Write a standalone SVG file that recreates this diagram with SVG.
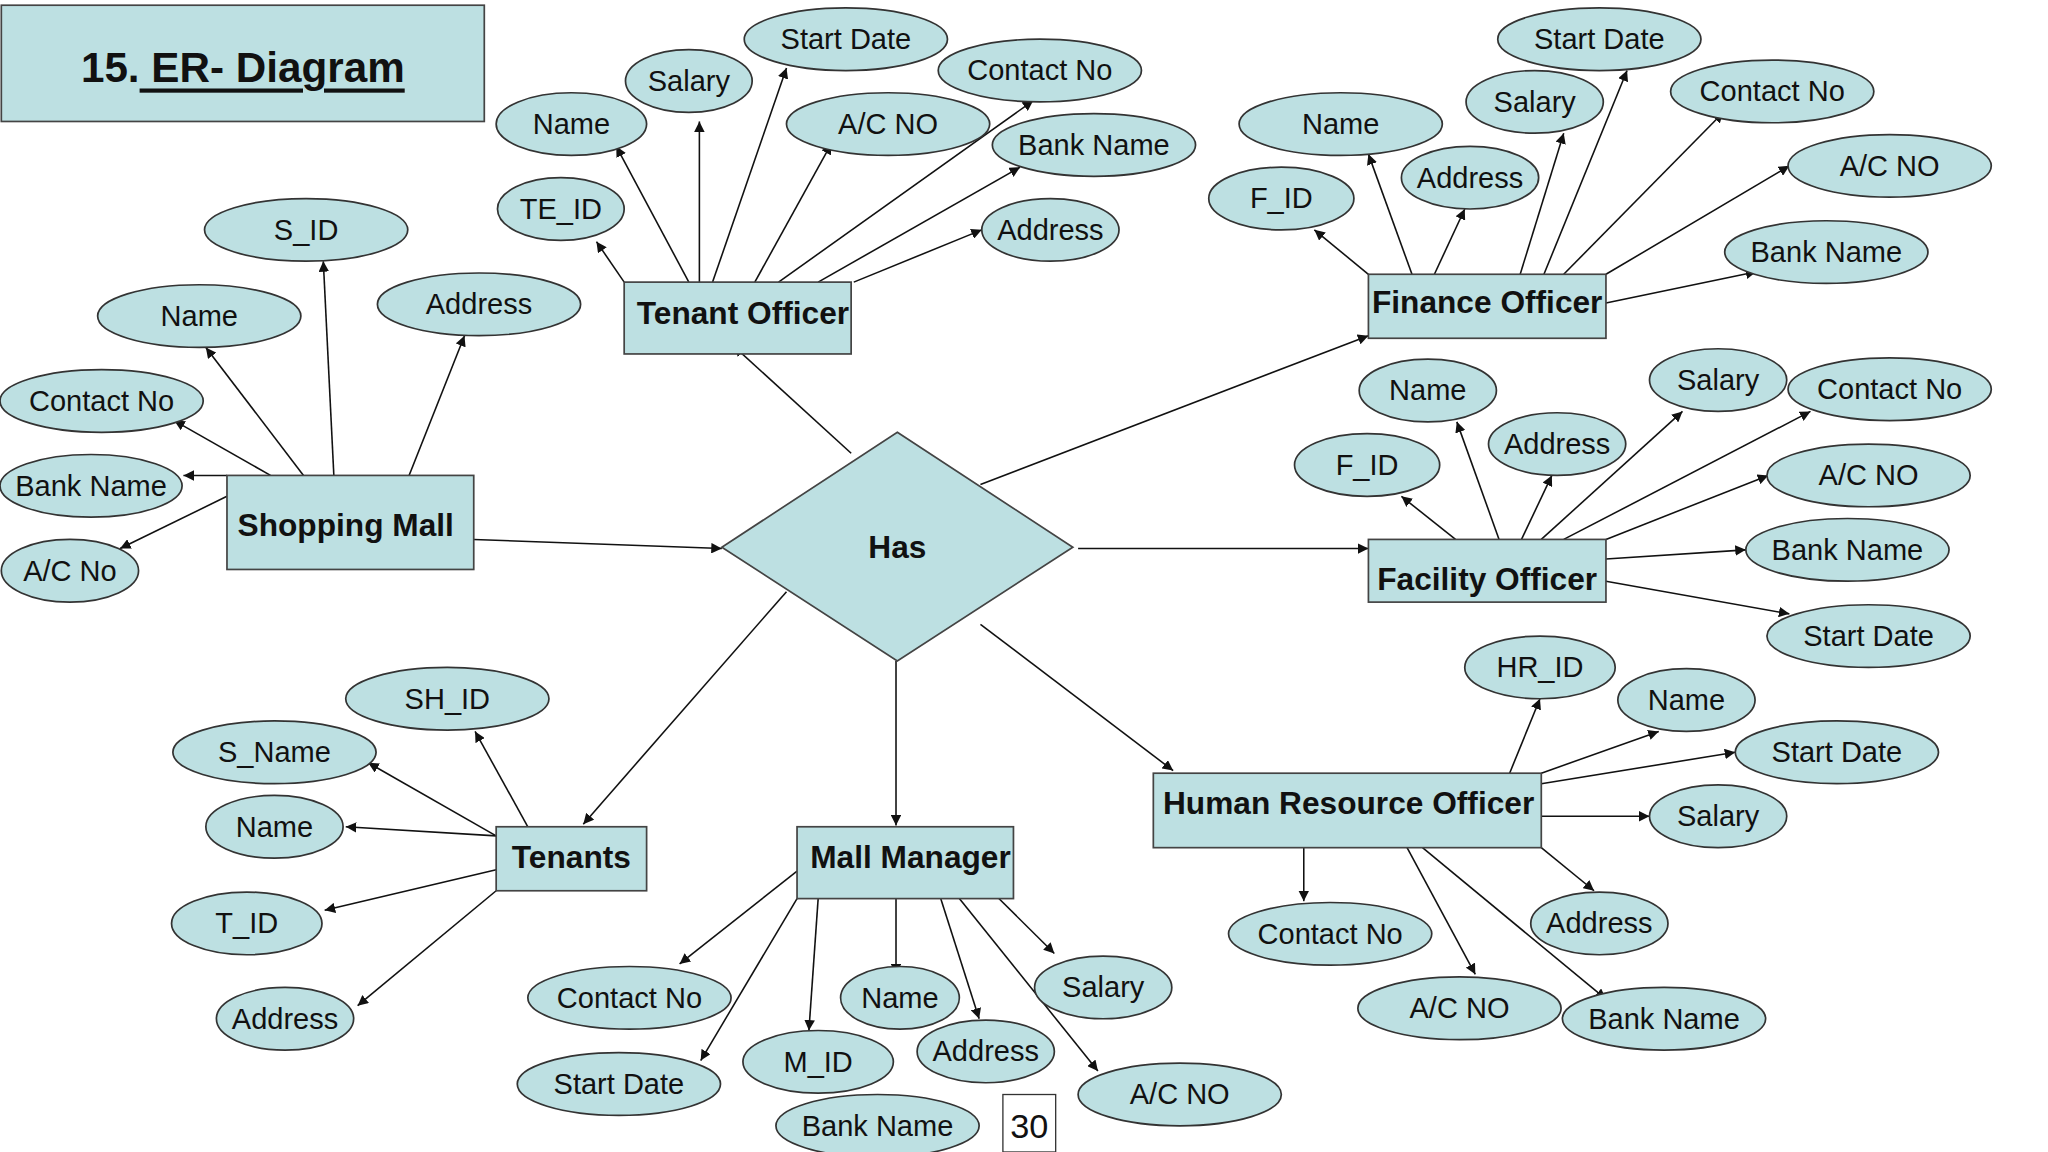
<svg xmlns="http://www.w3.org/2000/svg" width="2048" height="1152" viewBox="0 0 2048 1152">
<defs>
<style>
.e{fill:#bde0e2;stroke:#333;stroke-width:1.3}
.r{fill:#bde0e2;stroke:#444;stroke-width:1.3}
.t{font-family:"Liberation Sans",Arial,sans-serif;font-size:22px;text-anchor:middle;dominant-baseline:central;fill:#111}
.b{font-family:"Liberation Sans",Arial,sans-serif;font-size:24px;font-weight:bold;text-anchor:middle;dominant-baseline:central;fill:#111}
.c line{stroke:#111;stroke-width:1.2;marker-end:url(#a)}
</style>
<marker id="a" viewBox="0 0 10 10" refX="10" refY="5" markerWidth="8" markerHeight="8" orient="auto" markerUnits="userSpaceOnUse"><path d="M0,0L10,5L0,10z" fill="#111"/></marker>
</defs>
<rect width="2048" height="1152" fill="#fff"/>
<g transform="scale(1.3196,1.3061)">
<g id="title"><rect class="r" x="1" y="4" width="366" height="89"/><text x="184" y="51" class="b" style="font-size:32px"><tspan>15.</tspan><tspan text-decoration="underline"> ER- Diagram</tspan></text></g>
<g class="c" id="connectors">
<line x1="522" y1="216" x2="467" y2="112"/><line x1="530" y1="216" x2="530" y2="93"/><line x1="540" y1="216" x2="596" y2="52"/><line x1="572" y1="216" x2="630" y2="110"/><line x1="590" y1="216" x2="783" y2="77"/><line x1="620" y1="216" x2="773" y2="128"/><line x1="647" y1="216" x2="744" y2="176"/><line x1="473" y1="216" x2="452" y2="185"/>
<line x1="1037" y1="210" x2="996" y2="176"/><line x1="1070" y1="210" x2="1037" y2="118"/><line x1="1087" y1="210" x2="1110" y2="160"/><line x1="1152" y1="210" x2="1185" y2="102"/><line x1="1170" y1="210" x2="1233" y2="54"/><line x1="1185" y1="210" x2="1306" y2="86"/><line x1="1217" y1="210" x2="1356" y2="127"/><line x1="1217" y1="232" x2="1331" y2="208"/>
<line x1="1103" y1="413" x2="1062" y2="380"/><line x1="1136" y1="413" x2="1104" y2="323"/><line x1="1153" y1="413" x2="1176" y2="364"/><line x1="1168" y1="413" x2="1275" y2="315"/><line x1="1185" y1="413" x2="1372" y2="315"/><line x1="1217" y1="413" x2="1340" y2="364"/><line x1="1217" y1="428" x2="1323" y2="421"/><line x1="1217" y1="445" x2="1356" y2="470"/>
<line x1="253" y1="364" x2="245" y2="200"/><line x1="230" y1="364" x2="156" y2="266"/><line x1="310" y1="364" x2="352" y2="257"/><line x1="205" y1="364" x2="132" y2="322"/><line x1="172" y1="364" x2="139" y2="364"/><line x1="172" y1="380" x2="91" y2="420"/>
<line x1="645" y1="347" x2="556" y2="265"/><line x1="743" y1="371" x2="1037" y2="257"/><line x1="359" y1="413" x2="547" y2="420"/><line x1="817" y1="420" x2="1037" y2="420"/><line x1="596" y1="453" x2="442" y2="631"/><line x1="679" y1="506" x2="679" y2="632"/><line x1="743" y1="478" x2="889" y2="590"/>
<line x1="400" y1="633" x2="360" y2="560"/><line x1="376" y1="640" x2="279" y2="584"/><line x1="376" y1="640" x2="262" y2="633"/><line x1="376" y1="666" x2="246" y2="697"/><line x1="376" y1="682" x2="271" y2="770"/>
<line x1="604" y1="667" x2="515" y2="738"/><line x1="604" y1="688" x2="531" y2="812"/><line x1="620" y1="688" x2="613" y2="789"/><line x1="679" y1="688" x2="679" y2="746"/><line x1="711" y1="682" x2="742" y2="780"/><line x1="727" y1="688" x2="832" y2="820"/><line x1="751" y1="682" x2="799" y2="730"/>
<line x1="1144" y1="592" x2="1167" y2="535"/><line x1="1168" y1="592" x2="1257" y2="560"/><line x1="1168" y1="600" x2="1315" y2="576"/><line x1="1168" y1="625" x2="1250" y2="625"/><line x1="988" y1="649" x2="988" y2="690"/><line x1="1168" y1="649" x2="1208" y2="682"/><line x1="1062" y1="641" x2="1118" y2="746"/><line x1="1078" y1="649" x2="1217" y2="765"/>
</g>
<g id="has"><polygon class="r" points="680,331 813,419 680,506 547,419"/><text class="b" x="680" y="419">Has</text></g>
<g id="tenant-officer"><rect class="r" x="473" y="216" width="172" height="55"/><text class="b" x="563" y="240">Tenant Officer</text></g>
<g id="finance-officer"><rect class="r" x="1037" y="210" width="180" height="49"/><text class="b" x="1127" y="231">Finance Officer</text></g>
<g id="facility-officer"><rect class="r" x="1037" y="413" width="180" height="48"/><text class="b" x="1127" y="443">Facility Officer</text></g>
<g id="shopping-mall"><rect class="r" x="172" y="364" width="187" height="72"/><text class="b" x="262" y="402">Shopping Mall</text></g>
<g id="tenants"><rect class="r" x="376" y="633" width="114" height="49"/><text class="b" x="433" y="656">Tenants</text></g>
<g id="mall-manager"><rect class="r" x="604" y="633" width="164" height="55"/><text class="b" x="690" y="656">Mall Manager</text></g>
<g id="hr-officer"><rect class="r" x="874" y="592" width="294" height="57"/><text class="b" x="1022" y="615">Human Resource Officer</text></g>
<g id="page"><rect x="760" y="838" width="40" height="44" fill="#fff" stroke="#333"/><text class="t" x="780" y="862" style="font-size:26px">30</text></g>
<g id="attrs">
<g id="to-startdate"><ellipse class="e" cx="641" cy="30" rx="77" ry="24"/><text class="t" x="641" y="30">Start Date</text></g>
<g id="to-salary"><ellipse class="e" cx="522" cy="62" rx="48" ry="24"/><text class="t" x="522" y="62">Salary</text></g>
<g id="to-contact"><ellipse class="e" cx="788" cy="54" rx="77" ry="24"/><text class="t" x="788" y="54">Contact No</text></g>
<g id="to-name"><ellipse class="e" cx="433" cy="95" rx="57" ry="24"/><text class="t" x="433" y="95">Name</text></g>
<g id="to-acno"><ellipse class="e" cx="673" cy="95" rx="77" ry="24"/><text class="t" x="673" y="95">A/C NO</text></g>
<g id="to-bank"><ellipse class="e" cx="829" cy="111" rx="77" ry="24"/><text class="t" x="829" y="111">Bank Name</text></g>
<g id="to-teid"><ellipse class="e" cx="425" cy="160" rx="48" ry="24"/><text class="t" x="425" y="160">TE_ID</text></g>
<g id="to-address"><ellipse class="e" cx="796" cy="176" rx="52" ry="24"/><text class="t" x="796" y="176">Address</text></g>
<g id="fo-startdate"><ellipse class="e" cx="1212" cy="30" rx="77" ry="24"/><text class="t" x="1212" y="30">Start Date</text></g>
<g id="fo-salary"><ellipse class="e" cx="1163" cy="78" rx="52" ry="24"/><text class="t" x="1163" y="78">Salary</text></g>
<g id="fo-contact"><ellipse class="e" cx="1343" cy="70" rx="77" ry="24"/><text class="t" x="1343" y="70">Contact No</text></g>
<g id="fo-name"><ellipse class="e" cx="1016" cy="95" rx="77" ry="24"/><text class="t" x="1016" y="95">Name</text></g>
<g id="fo-address"><ellipse class="e" cx="1114" cy="136" rx="52" ry="24"/><text class="t" x="1114" y="136">Address</text></g>
<g id="fo-fid"><ellipse class="e" cx="971" cy="152" rx="55" ry="24"/><text class="t" x="971" y="152">F_ID</text></g>
<g id="fo-acno"><ellipse class="e" cx="1432" cy="127" rx="77" ry="24"/><text class="t" x="1432" y="127">A/C NO</text></g>
<g id="fo-bank"><ellipse class="e" cx="1384" cy="193" rx="77" ry="24"/><text class="t" x="1384" y="193">Bank Name</text></g>
<g id="fa-name"><ellipse class="e" cx="1082" cy="299" rx="52" ry="24"/><text class="t" x="1082" y="299">Name</text></g>
<g id="fa-salary"><ellipse class="e" cx="1302" cy="291" rx="52" ry="24"/><text class="t" x="1302" y="291">Salary</text></g>
<g id="fa-contact"><ellipse class="e" cx="1432" cy="298" rx="77" ry="24"/><text class="t" x="1432" y="298">Contact No</text></g>
<g id="fa-address"><ellipse class="e" cx="1180" cy="340" rx="52" ry="24"/><text class="t" x="1180" y="340">Address</text></g>
<g id="fa-fid"><ellipse class="e" cx="1036" cy="356" rx="55" ry="24"/><text class="t" x="1036" y="356">F_ID</text></g>
<g id="fa-acno"><ellipse class="e" cx="1416" cy="364" rx="77" ry="24"/><text class="t" x="1416" y="364">A/C NO</text></g>
<g id="fa-bank"><ellipse class="e" cx="1400" cy="421" rx="77" ry="24"/><text class="t" x="1400" y="421">Bank Name</text></g>
<g id="fa-startdate"><ellipse class="e" cx="1416" cy="487" rx="77" ry="24"/><text class="t" x="1416" y="487">Start Date</text></g>
<g id="sm-sid"><ellipse class="e" cx="232" cy="176" rx="77" ry="24"/><text class="t" x="232" y="176">S_ID</text></g>
<g id="sm-name"><ellipse class="e" cx="151" cy="242" rx="77" ry="24"/><text class="t" x="151" y="242">Name</text></g>
<g id="sm-address"><ellipse class="e" cx="363" cy="233" rx="77" ry="24"/><text class="t" x="363" y="233">Address</text></g>
<g id="sm-contact"><ellipse class="e" cx="77" cy="307" rx="77" ry="24"/><text class="t" x="77" y="307">Contact No</text></g>
<g id="sm-bank"><ellipse class="e" cx="69" cy="372" rx="69" ry="24"/><text class="t" x="69" y="372">Bank Name</text></g>
<g id="sm-acno"><ellipse class="e" cx="53" cy="437" rx="52" ry="24"/><text class="t" x="53" y="437">A/C No</text></g>
<g id="te-shid"><ellipse class="e" cx="339" cy="535" rx="77" ry="24"/><text class="t" x="339" y="535">SH_ID</text></g>
<g id="te-sname"><ellipse class="e" cx="208" cy="576" rx="77" ry="24"/><text class="t" x="208" y="576">S_Name</text></g>
<g id="te-name"><ellipse class="e" cx="208" cy="633" rx="52" ry="24"/><text class="t" x="208" y="633">Name</text></g>
<g id="te-tid"><ellipse class="e" cx="187" cy="707" rx="57" ry="24"/><text class="t" x="187" y="707">T_ID</text></g>
<g id="te-address"><ellipse class="e" cx="216" cy="780" rx="52" ry="24"/><text class="t" x="216" y="780">Address</text></g>
<g id="mm-contact"><ellipse class="e" cx="477" cy="764" rx="77" ry="24"/><text class="t" x="477" y="764">Contact No</text></g>
<g id="mm-startdate"><ellipse class="e" cx="469" cy="830" rx="77" ry="24"/><text class="t" x="469" y="830">Start Date</text></g>
<g id="mm-mid"><ellipse class="e" cx="620" cy="813" rx="57" ry="24"/><text class="t" x="620" y="813">M_ID</text></g>
<g id="mm-name"><ellipse class="e" cx="682" cy="764" rx="45" ry="24"/><text class="t" x="682" y="764">Name</text></g>
<g id="mm-address"><ellipse class="e" cx="747" cy="805" rx="52" ry="24"/><text class="t" x="747" y="805">Address</text></g>
<g id="mm-salary"><ellipse class="e" cx="836" cy="756" rx="52" ry="24"/><text class="t" x="836" y="756">Salary</text></g>
<g id="mm-acno"><ellipse class="e" cx="894" cy="838" rx="77" ry="24"/><text class="t" x="894" y="838">A/C NO</text></g>
<g id="mm-bank"><ellipse class="e" cx="665" cy="862" rx="77" ry="24"/><text class="t" x="665" y="862">Bank Name</text></g>
<g id="hr-hrid"><ellipse class="e" cx="1167" cy="511" rx="57" ry="24"/><text class="t" x="1167" y="511">HR_ID</text></g>
<g id="hr-name"><ellipse class="e" cx="1278" cy="536" rx="52" ry="24"/><text class="t" x="1278" y="536">Name</text></g>
<g id="hr-startdate"><ellipse class="e" cx="1392" cy="576" rx="77" ry="24"/><text class="t" x="1392" y="576">Start Date</text></g>
<g id="hr-salary"><ellipse class="e" cx="1302" cy="625" rx="52" ry="24"/><text class="t" x="1302" y="625">Salary</text></g>
<g id="hr-contact"><ellipse class="e" cx="1008" cy="715" rx="77" ry="24"/><text class="t" x="1008" y="715">Contact No</text></g>
<g id="hr-address"><ellipse class="e" cx="1212" cy="707" rx="52" ry="24"/><text class="t" x="1212" y="707">Address</text></g>
<g id="hr-acno"><ellipse class="e" cx="1106" cy="772" rx="77" ry="24"/><text class="t" x="1106" y="772">A/C NO</text></g>
<g id="hr-bank"><ellipse class="e" cx="1261" cy="780" rx="77" ry="24"/><text class="t" x="1261" y="780">Bank Name</text></g>
</g>
</g>
</svg>
